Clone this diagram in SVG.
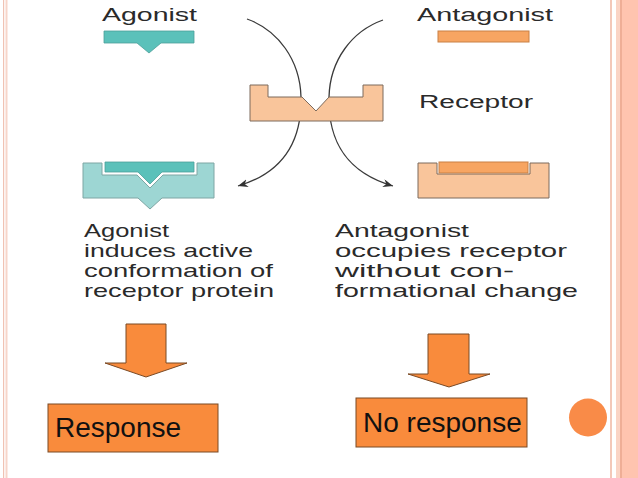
<svg xmlns="http://www.w3.org/2000/svg" width="638" height="478" viewBox="0 0 638 478">
<defs>
<style>
.lbl{font-family:"Liberation Sans",Arial,sans-serif;font-size:18px;fill:#2a2a2a}
.lbl2{font-family:"Liberation Sans",Arial,sans-serif;font-size:19px;fill:#2a2a2a}
.big{font-family:"Liberation Sans",Arial,sans-serif;font-size:28px;fill:#111}
.orange{fill:#F98B3C;stroke:#7a4a25;stroke-width:1}
.curve{fill:none;stroke:#3a3a3a;stroke-width:1.3}
.recp{fill:#F9C59B;stroke:#7c6a5c;stroke-width:1}
.ant{fill:#F7A562;stroke:#C98045;stroke-width:1}
.ago{fill:#5BC1BA;stroke:#4c9f99;stroke-width:0.8}
.recg{fill:#9DD6D3;stroke:#7ea6a4;stroke-width:1}
</style>
<marker id="ah" markerUnits="userSpaceOnUse" markerWidth="12" markerHeight="10" refX="10" refY="4" orient="auto">
<path d="M0,0 L10,4 L0,8 L3,4 Z" fill="#333"/>
</marker>
</defs>
<rect width="638" height="478" fill="#fff"/>
<g id="border">
<rect x="3" y="0" width="1.2" height="478" fill="#F0C2B3"/>
<rect x="5.5" y="0" width="2" height="478" fill="#F7D5CA"/>
<rect x="610" y="0" width="2" height="478" fill="#F3C8B9"/>
<rect x="616" y="0" width="4" height="478" fill="#FAD4C5"/>
<rect x="620" y="0" width="2" height="478" fill="#EFAE96"/>
<rect x="622" y="0" width="16" height="478" fill="#FFC4AF"/>
</g>
<g id="connectors">
<path class="curve" d="M247,19 C278,30 300,60 301,97 C302,140 285,172 238,186" marker-end="url(#ah)"/>
<path class="curve" d="M383,20 C352,31 330,60 329,97 C328,140 345,172 393,186" marker-end="url(#ah)"/>
<path class="orange" d="M126,324 L166,324 L166,363 L187,363 L146,377 L105,363 L126,363 Z"/>
<path class="orange" d="M428,334 L469,334 L469,374 L490,374 L449,387 L408,374 L428,374 Z"/>
</g>
<g id="agonist">
<text class="lbl" x="102" y="21" textLength="95" lengthAdjust="spacingAndGlyphs">Agonist</text>
<path class="ago" d="M104,31 L194,31 L194,43 L161,43 L149,53 L137,43 L104,43 Z"/>
</g>
<g id="antagonist">
<text class="lbl" x="417" y="21" textLength="136" lengthAdjust="spacingAndGlyphs">Antagonist</text>
<rect class="ant" x="438" y="31" width="91" height="11"/>
</g>
<g id="receptor">
<path class="recp" d="M250,85 L268,85 L268,97 L302,97 L316,111 L329,97 L363,97 L363,85 L383,85 L383,121 L250,121 Z"/>
<text class="lbl" x="419" y="108" textLength="114" lengthAdjust="spacingAndGlyphs">Receptor</text>
</g>
<g id="agonist-bound">
<path class="recg" d="M83,163 L102,163 L102,175 L137,175 L150,188 L163,175 L197,175 L197,163 L214,163 L214,198 L162,198 L150,209 L138,198 L83,198 Z"/>
<path class="ago" d="M105,162 L194,162 L194,172 L162,172 L150,184 L138,172 L105,172 Z"/>
<text class="lbl2" x="84" y="237" textLength="85" lengthAdjust="spacingAndGlyphs">Agonist</text>
<text class="lbl2" x="84" y="257" textLength="169" lengthAdjust="spacingAndGlyphs">induces active</text>
<text class="lbl2" x="84" y="277" textLength="189" lengthAdjust="spacingAndGlyphs">conformation of</text>
<text class="lbl2" x="84" y="297" textLength="190" lengthAdjust="spacingAndGlyphs">receptor protein</text>
</g>
<g id="antagonist-bound">
<path class="recp" d="M418,163 L437,163 L437,174 L530,174 L530,163 L549,163 L549,198 L418,198 Z"/>
<rect class="ant" x="439" y="162" width="89" height="11"/>
<text class="lbl2" x="335" y="237" textLength="134" lengthAdjust="spacingAndGlyphs">Antagonist</text>
<text class="lbl2" x="335" y="257" textLength="232" lengthAdjust="spacingAndGlyphs">occupies receptor</text>
<text class="lbl2" x="335" y="277" textLength="179" lengthAdjust="spacingAndGlyphs">without con-</text>
<text class="lbl2" x="335" y="297" textLength="243" lengthAdjust="spacingAndGlyphs">formational change</text>
</g>
<g id="response">
<rect class="orange" x="48" y="404" width="170" height="48"/>
<text class="big" x="55" y="437">Response</text>
</g>
<g id="no-response">
<rect class="orange" x="356" y="398" width="171" height="49"/>
<text class="big" x="363" y="432">No response</text>
</g>
<g id="dot">
<circle cx="588" cy="417.5" r="19" fill="#F98B48"/>
</g>
</svg>
